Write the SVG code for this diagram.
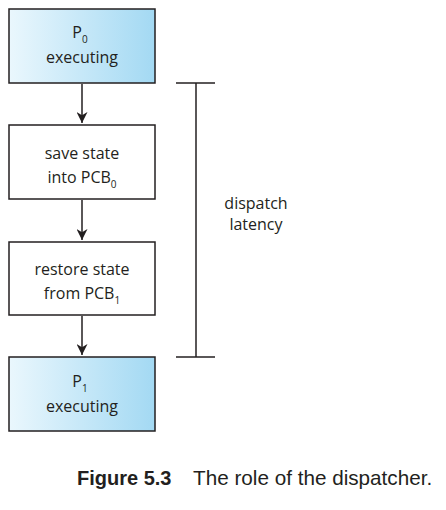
<svg xmlns="http://www.w3.org/2000/svg" width="446" height="510" viewBox="0 0 446 510">
<style>
.box{stroke:#231f20;stroke-width:1.5}
.t{font-family:"Open Sans","Noto Sans",sans-serif;font-size:16px;fill:#231f20;text-anchor:middle}
.sub{font-size:10px}
.ln{stroke:#231f20;stroke-width:1.5;fill:none}
.cap{font-family:"Liberation Sans",Arial,sans-serif;font-size:20px;fill:#231f20}
</style>
<defs>
<linearGradient id="g" x1="0" y1="0" x2="1" y2="0">
<stop offset="0" stop-color="#eaf7fd"/>
<stop offset="1" stop-color="#a3d9f3"/>
</linearGradient>
<marker id="ah" viewBox="0 0 10 10" refX="10" refY="5" markerWidth="11" markerHeight="11" markerUnits="userSpaceOnUse" orient="auto">
<path d="M0,0 L10,5 L0,10 L3,5 Z" fill="#231f20"/>
</marker>
</defs>
<g id="p0">
<rect class="box" x="9" y="9" width="146" height="74" fill="url(#g)"/>
<text class="t" x="80" y="38">P<tspan class="sub" dy="5">0</tspan></text>
<text class="t" x="82" y="63">executing</text>
</g>
<g id="save">
<rect class="box" x="9" y="125" width="146" height="74" fill="#fff"/>
<text class="t" x="82" y="159">save state</text>
<text class="t" x="82" y="183">into PCB<tspan class="sub" dy="5">0</tspan></text>
</g>
<g id="restore">
<rect class="box" x="9" y="242" width="146" height="73" fill="#fff"/>
<text class="t" x="82" y="275">restore state</text>
<text class="t" x="82" y="299">from PCB<tspan class="sub" dy="5">1</tspan></text>
</g>
<g id="p1">
<rect class="box" x="9" y="357" width="146" height="74" fill="url(#g)"/>
<text class="t" x="80" y="387">P<tspan class="sub" dy="5">1</tspan></text>
<text class="t" x="82" y="412">executing</text>
</g>
<g id="connectors">
<line class="ln" x1="82" y1="84" x2="82" y2="123" marker-end="url(#ah)"/>
<line class="ln" x1="82" y1="200" x2="82" y2="240" marker-end="url(#ah)"/>
<line class="ln" x1="82" y1="316" x2="82" y2="355" marker-end="url(#ah)"/>
</g>
<g id="latency">
<line class="ln" x1="196" y1="83" x2="196" y2="357"/>
<line class="ln" x1="176" y1="83" x2="215" y2="83"/>
<line class="ln" x1="176" y1="357" x2="215" y2="357"/>
<text class="t" x="256" y="209">dispatch</text>
<text class="t" x="256" y="230">latency</text>
</g>
<g id="caption">
<text class="cap" x="77" y="485"><tspan font-weight="bold">Figure 5.3</tspan><tspan x="193" font-size="20.7">The role of the dispatcher.</tspan></text>
</g>
</svg>
